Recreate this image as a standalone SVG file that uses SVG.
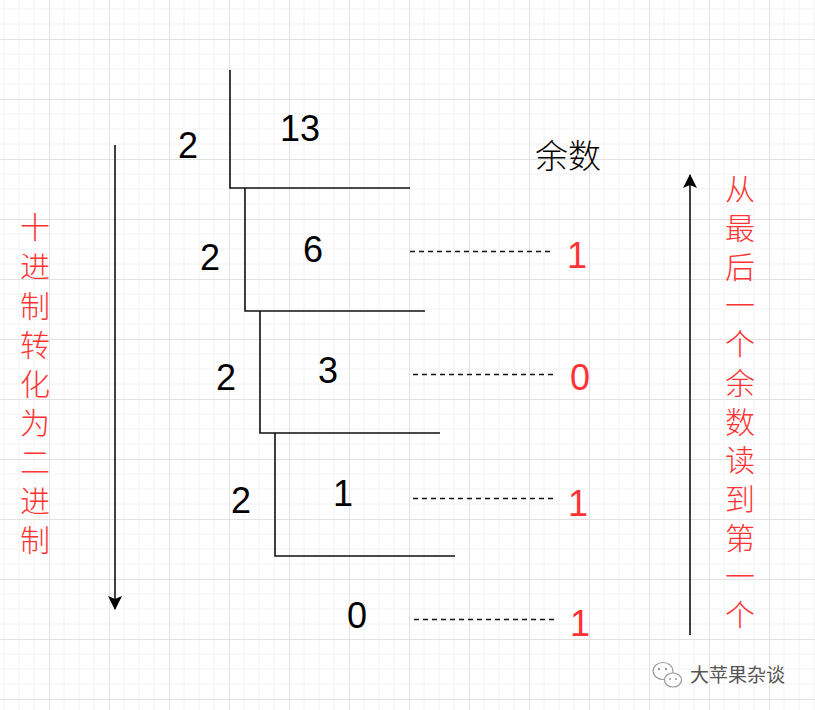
<svg xmlns="http://www.w3.org/2000/svg" width="815" height="710" viewBox="0 0 815 710">
<defs>
<pattern id="grid" x="49" y="39" width="60" height="60" patternUnits="userSpaceOnUse">
<path d="M15 0V60M30 0V60M45 0V60M0 15H60M0 30H60M0 45H60" stroke="#f2f2f2" stroke-width="1" fill="none"/>
<path d="M0.5 0V60M0 0.5H60" stroke="#e2e2e2" stroke-width="1" fill="none"/>
</pattern>
<marker id="arr" viewBox="0 0 14 14" refX="13" refY="7" markerWidth="14" markerHeight="14" markerUnits="userSpaceOnUse" orient="auto">
<path d="M0 0L14 7L0 14L3 7Z" fill="#000"/>
</marker>
<style>
.ln{stroke:#111;stroke-width:1.6;fill:none}
.ds{stroke:#111;stroke-width:1.5;stroke-dasharray:5 4;fill:none}
.num{font-family:"Liberation Sans",Arial,sans-serif;font-size:36px;fill:#000;text-anchor:middle}
.rem{font-family:"Liberation Sans",Arial,sans-serif;font-size:36px;fill:#ff3333;text-anchor:middle}
.cjk{font-family:"Noto Sans CJK SC",sans-serif;font-size:30px;font-weight:300;fill:#ff3333;writing-mode:tb;glyph-orientation-vertical:0}
.hd{font-family:"Noto Sans CJK SC",sans-serif;font-size:33px;font-weight:300;fill:#000;text-anchor:middle}
</style>
</defs>
<rect width="815" height="710" fill="#fff"/>
<rect width="815" height="710" fill="url(#grid)"/>

<g id="step1">
<path class="ln" d="M230 70V188H410"/>
<text class="num" x="188" y="158">2</text>
<text class="num" x="300" y="141">13</text>
</g>
<g id="step2">
<path class="ln" d="M245 188V311H425"/>
<text class="num" x="210" y="270">2</text>
<text class="num" x="313" y="262">6</text>
</g>
<g id="step3">
<path class="ln" d="M260 311V433H440"/>
<text class="num" x="226" y="390">2</text>
<text class="num" x="328" y="383">3</text>
</g>
<g id="step4">
<path class="ln" d="M275 433V556H455"/>
<text class="num" x="241" y="513">2</text>
<text class="num" x="343" y="506">1</text>
</g>
<g id="step5">
<text class="num" x="357" y="628">0</text>
</g>

<g id="header">
<text class="hd" x="568" y="168">余数</text>
</g>

<g id="remainders">
<text class="rem" x="577" y="268">1</text>
<text class="rem" x="580" y="390">0</text>
<text class="rem" x="578" y="516">1</text>
<text class="rem" x="580" y="636">1</text>
</g>

<g id="connectors">
<line class="ds" x1="410" y1="251.5" x2="550" y2="251.5"/>
<line class="ds" x1="413" y1="374.5" x2="553" y2="374.5"/>
<line class="ds" x1="413" y1="498.5" x2="553" y2="498.5"/>
<line class="ds" x1="414" y1="619.5" x2="555" y2="619.5"/>
<line class="ln" x1="115" y1="145" x2="115" y2="609" marker-end="url(#arr)"/>
<line class="ln" x1="690" y1="635" x2="690" y2="175" marker-end="url(#arr)"/>
</g>

<g id="left-label">
<text class="cjk" x="35" y="212" letter-spacing="9.1">十进制转化为二进制</text>
</g>

<g id="right-label">
<text class="cjk" x="740" y="174" letter-spacing="8.7">从最后一个余数读到第一个</text>
</g>

<g id="watermark">
<ellipse cx="663" cy="671" rx="10" ry="8.5" fill="#fff" stroke="#999" stroke-width="1.2"/>
<ellipse cx="673" cy="680" rx="8.5" ry="7" fill="#fff" stroke="#999" stroke-width="1.2"/>
<circle cx="659" cy="669" r="1.2" fill="#999"/>
<circle cx="666" cy="669" r="1.2" fill="#999"/>
<circle cx="670" cy="679" r="1" fill="#999"/>
<circle cx="676" cy="679" r="1" fill="#999"/>
<text x="690" y="682" font-family="Noto Sans CJK SC,sans-serif" font-size="19" fill="#555">大苹果杂谈</text>
</g>
</svg>
